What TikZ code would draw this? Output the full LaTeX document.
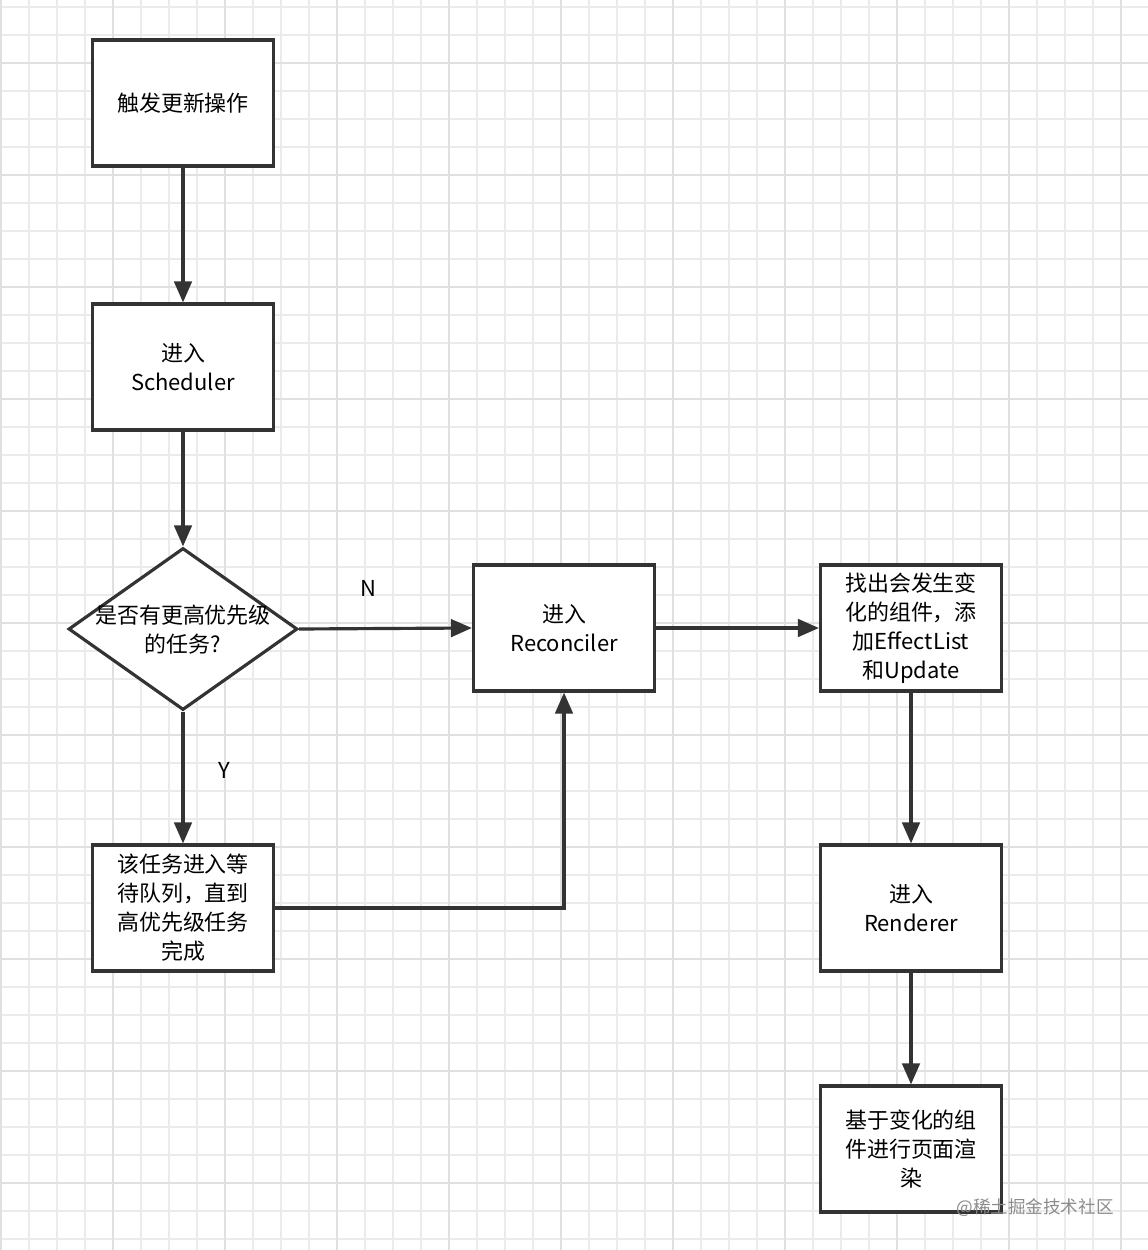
\documentclass[tikz,border=0pt]{standalone}
\usepackage{fontspec}
\setmainfont{Noto Sans CJK SC}
\usetikzlibrary{shapes.geometric,arrows.meta}
\begin{document}
\begin{tikzpicture}[x=0.02cm,y=-0.02cm,
  box/.style={draw=black!80,line width=1.8pt,fill=white,minimum width=181*0.02cm,minimum height=126*0.02cm,align=center,inner sep=2pt,font=\fontsize{12.5}{16.5}\selectfont},
  arr/.style={draw=black!80,line width=1.8pt,-{Triangle[length=12pt,width=10pt]}}]
\fill[white] (0,0) rectangle (1148,1250);
\useasboundingbox (0,0) rectangle (1148,1250);
\foreach \x in {1,29,...,1148} \draw[black!8,line width=0.6pt] (\x,0)--(\x,1250);
\foreach \y in {7,35,...,1250} \draw[black!8,line width=0.6pt] (0,\y)--(1148,\y);
\foreach \x in {1,113,...,1148} \draw[black!12,line width=0.8pt] (\x,0)--(\x,1250);
\foreach \y in {63,175,...,1250} \draw[black!12,line width=0.8pt] (0,\y)--(1148,\y);
\node[box] (a) at (183,103) {触发更新操作};
\node[box] (b) at (183,367) {进入\\Scheduler};
\node[diamond,draw=black!80,line width=1.8pt,fill=white,minimum width=229*0.02cm,minimum height=162*0.02cm,inner sep=0pt,aspect=1.41] (q) at (183,629) {};
\node[align=center,font=\fontsize{12.5}{16.5}\selectfont] (qt) at (183,630) {是否有更高优先级\\的任务?};
\node[box] (c) at (564,628) {进入\\Reconciler};
\node[box] (d) at (911,628) {找出会发生变\\化的组件，添\\加EffectList\\和Update};
\node[box] (e) at (183,908) {该任务进入等\\待队列，直到\\高优先级任务\\完成};
\node[box] (f) at (911,908) {进入\\Renderer};
\node[box] (g) at (911,1149) {基于变化的组\\件进行页面渲\\染};
\draw[arr] (a) -- (b);
\draw[arr] (b) -- (q.north);
\draw[arr] (q.east) -- node[pos=0.4,above=14pt,font=\fontsize{12.5}{15}\selectfont]{N} (c.west);
\draw[arr] (q.south) -- node[pos=0.45,right=16pt,font=\fontsize{12.5}{15}\selectfont]{Y} (e.north);
\draw[arr] (e.east) -| (c.south);
\draw[arr] (c) -- (d);
\draw[arr] (d) -- (f);
\draw[arr] (f) -- (g);
\node[text=black!45,font=\fontsize{10}{12}\selectfont] (w) at (1035,1208) {@稀土掘金技术社区};
\end{tikzpicture}
\end{document}
